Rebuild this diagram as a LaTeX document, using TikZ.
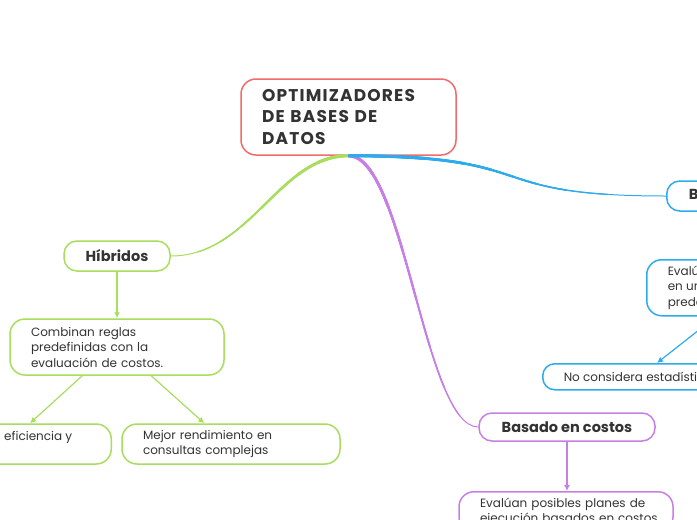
\documentclass[tikz,border=0pt]{standalone}
\usepackage{fontspec}
\setmainfont{Poppins}
\newfontfamily\titlefont[LetterSpace=7]{Poppins}
\usetikzlibrary{calc,arrows.meta}
\definecolor{cred}{HTML}{F26B6B}
\definecolor{cgreen}{HTML}{A8DD5E}
\definecolor{cblue}{HTML}{2EABEA}
\definecolor{cpurple}{HTML}{C77FE6}
\definecolor{ctext}{HTML}{333333}
\newcommand\taperseg[3]{%
  \path ($(p0)!#1!(p1)$) coordinate (q1)
        ($(p1)!#1!(p2)$) coordinate (m12)
        ($(p2)!#1!(p3)$) coordinate (m23);
  \path ($(q1)!#1!(m12)$) coordinate (q2)
        ($(m12)!#1!(m23)$) coordinate (r2);
  \path ($(q2)!#1!(r2)$) coordinate (q3);
  \draw[#3, line width=#2] (p0) .. controls (q1) and (q2) .. (q3);}
\newcommand\tapercurve[1]{%
  \taperseg{1}{1pt}{#1}%
  \taperseg{0.88}{1.3pt}{#1}%
  \taperseg{0.76}{1.6pt}{#1}%
  \taperseg{0.64}{1.9pt}{#1}%
  \taperseg{0.52}{2.2pt}{#1}%
  \taperseg{0.40}{2.5pt}{#1}%
  \taperseg{0.28}{2.8pt}{#1}%
  \taperseg{0.16}{3.1pt}{#1}}
\begin{document}
\begin{tikzpicture}[x=1pt,y=-1pt,
  box/.style={draw, fill=white, line width=1.5pt, rounded corners=15pt, inner ysep=0pt,
    text=ctext, font=\fontsize{12}{15.5}\selectfont, align=left},
  pill/.style={box, rounded corners=13pt, font=\bfseries\fontsize{14.5}{17}\selectfont},
  bodytext/.style={text=ctext, font=\fontsize{12}{15.5}\selectfont, inner sep=0pt},
  arr/.style={line width=1.2pt, -{Latex[length=6pt,width=6pt]}}]
\useasboundingbox (0,0) rectangle (697,520);
\fill[white] (0,0) rectangle (697,520);
\clip (0,0) rectangle (697,520);

% nodes
\node[box, draw=cred, text width=173pt, inner xsep=21pt, minimum height=76pt,
  font=\titlefont\bfseries\fontsize{17}{21.5}\selectfont] (main) at (348.5,117)
  {OPTIMIZADORES\\DE BASES DE\\DATOS};
\node[pill, draw=cgreen, minimum width=106pt, minimum height=30pt, inner xsep=0pt, align=center]
  (hib) at (117,256) {Híbridos};
\node[box, draw=cgreen, text width=172pt, inner xsep=21pt, minimum height=56pt]
  (comb) at (117,347) {Combinan reglas\\predefinidas con la\\evaluación de costos.};
\node[box, draw=cgreen, minimum width=200pt, minimum height=40pt, anchor=east]
  (efi) at (112,444) {};
\node[bodytext, anchor=west] (efit) at (4,437) {eficiencia y};
\node[box, draw=cgreen, text width=176pt, inner xsep=21pt, minimum height=40pt]
  (mej) at (231,444) {Mejor rendimiento en\\consultas complejas};
\node[pill, draw=cpurple, minimum width=176pt, minimum height=28pt, inner xsep=0pt, align=center]
  (bas) at (567,427) {Basado en costos};
\node[box, draw=cpurple, text width=172pt, inner xsep=21pt, minimum height=40pt, anchor=north]
  (evp) at (566,491) {\mbox{Evalúan posibles planes de}\\\mbox{ejecución basados en costos}};
\node[pill, draw=cblue, minimum height=30pt, inner xsep=22pt, anchor=west]
  (bre) at (666,196) {Basado en reglas};
\node[box, draw=cblue, inner xsep=21pt, minimum height=56pt, anchor=north west]
  (evb) at (646,259) {Evalúan según\\en un orden\\predefinido.};
\node[box, draw=cblue, rounded corners=12pt, inner xsep=21pt, minimum height=26pt, anchor=north west]
  (noc) at (542,363) {No considera estadísticas};

% curves
\coordinate (p0) at (main.south);
\coordinate (p3) at (hib.east);
\coordinate (p1) at ($(p0)+(-70,0)$);
\coordinate (p2) at ($(p3)+(80,0)$);
\tapercurve{cgreen}
\coordinate (p3) at (bas.west);
\coordinate (p1) at ($(p0)+(56,0)$);
\coordinate (p2) at ($(p3)+(-54,0)$);
\tapercurve{cpurple}
\coordinate (p3) at (bre.west);
\coordinate (p1) at ($(p0)+(200,0)$);
\coordinate (p2) at ($(p3)+(-191,0)$);
\tapercurve{cblue}

% arrows
\draw[arr, cgreen] (hib.south) -- (comb.north);
\draw[arr, cgreen] ($(comb.south west)+(73,0)$) -- ($(efi.north east)+(-82,0)$);
\draw[arr, cgreen] ($(comb.south west)+(142,0)$) -- ($(mej.north west)+(83,0)$);
\draw[arr, cpurple] (bas.south) -- (bas.south |- evp.north);
\draw[arr, cblue] ($(evb.south west)+(70,0)$) -- ($(noc.north west)+(115,0)$);
\end{tikzpicture}
\end{document}
